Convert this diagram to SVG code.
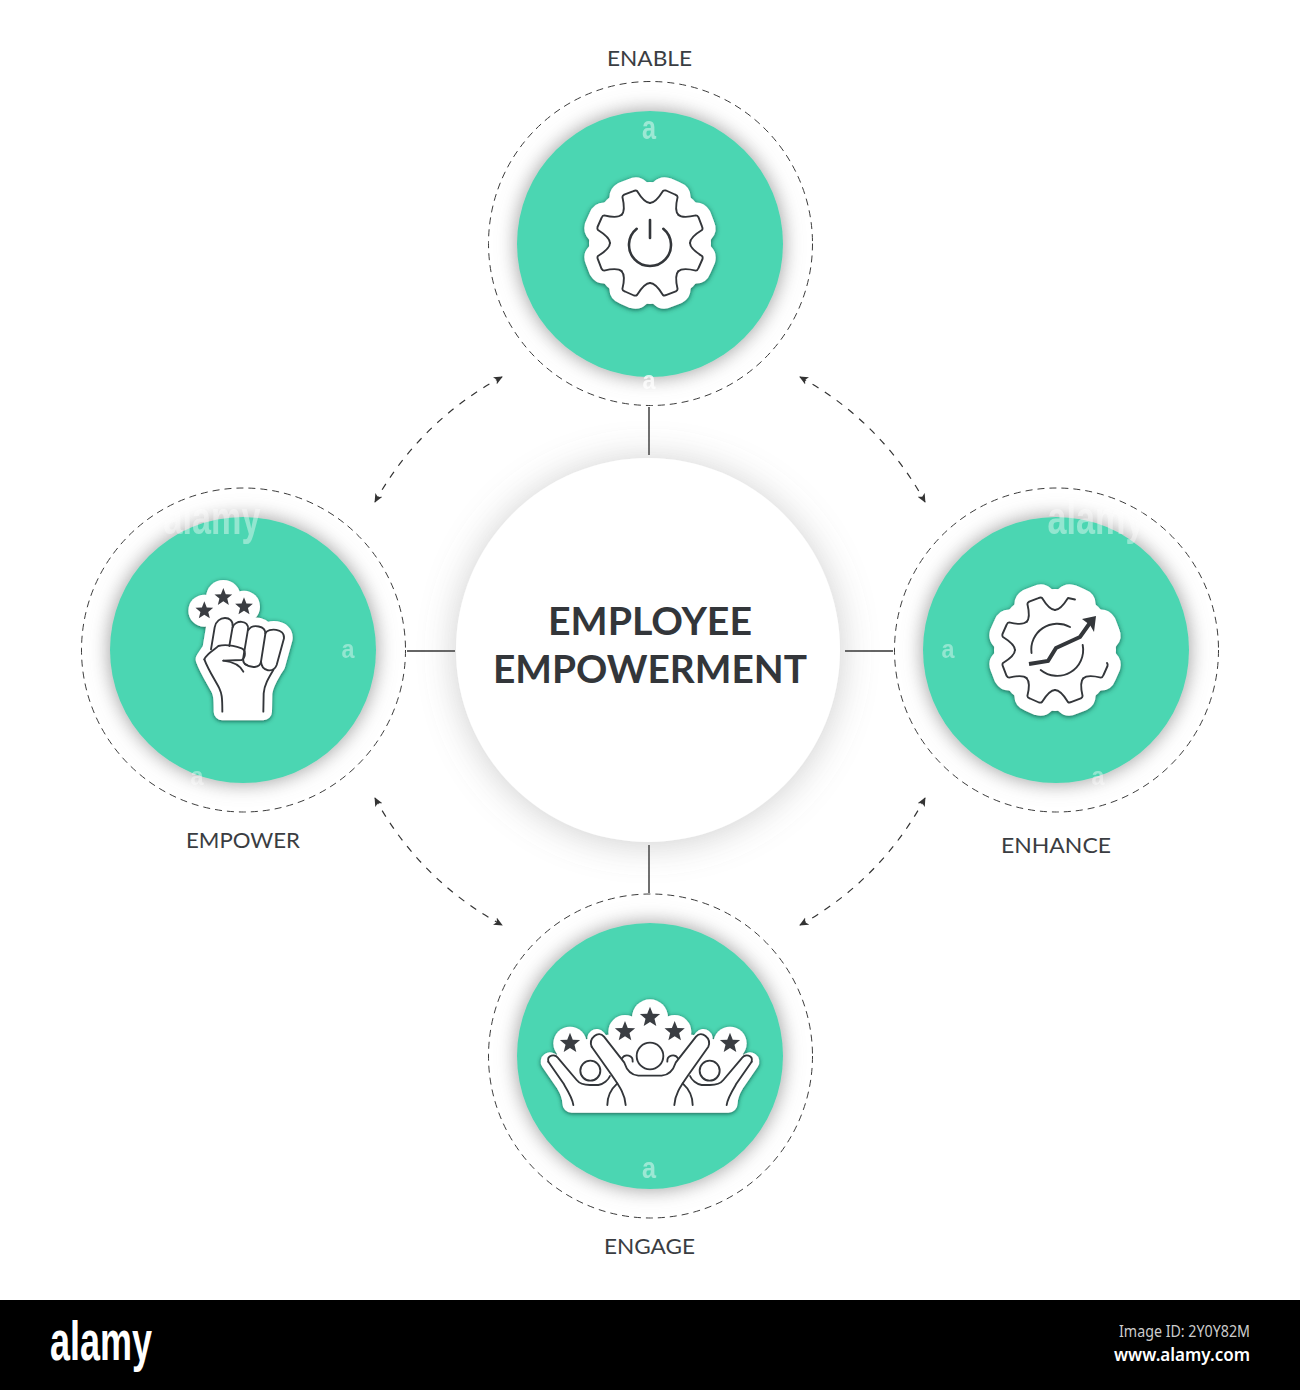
<svg xmlns="http://www.w3.org/2000/svg" width="1300" height="1390" viewBox="0 0 1300 1390">
<style>
.lbl{font-family:"Lato","Liberation Sans",sans-serif;font-size:21px;fill:#3a3d42;text-anchor:middle}
.title{font-family:"Lato","Liberation Sans",sans-serif;font-weight:700;font-size:39px;fill:#33363a;text-anchor:middle}
.teal{fill:#4bd6b2}
.dash{fill:none;stroke:#3c3c3c;stroke-width:1;stroke-dasharray:7 5}
.arc{fill:none;stroke:#333;stroke-width:1.2;stroke-dasharray:7 7.5}
.ln{stroke:#333;stroke-width:1.4;fill:none}
.ic{fill:none;stroke:#33363a;stroke-width:1.9;stroke-linecap:round;stroke-linejoin:round}
.ic5{fill:none;stroke:#33363a;stroke-width:5.6;stroke-linecap:round;stroke-linejoin:round}
.st{fill:#fff;stroke:#fff;stroke-width:26;stroke-linejoin:round;stroke-linecap:round}
.sk{fill:none;stroke:#fff;stroke-width:56;stroke-linejoin:round;stroke-linecap:round}
.skb{fill:#fff;stroke:#fff;stroke-width:52;stroke-linejoin:round}
.star{fill:#3a3d42}
.w{fill:#fff}
.wm{font-family:"Liberation Sans",sans-serif;font-weight:700;fill:#fff;text-anchor:middle}
</style>
<defs>
<filter id="halo" x="-30%" y="-30%" width="160%" height="160%"><feDropShadow dx="0" dy="0" stdDeviation="10" flood-color="#777" flood-opacity=".75"/></filter>
<filter id="big" x="-30%" y="-30%" width="160%" height="160%"><feDropShadow dx="0" dy="2" stdDeviation="18" flood-color="#777" flood-opacity=".36"/></filter>
<filter id="stk" x="-20%" y="-20%" width="140%" height="140%"><feDropShadow dx="0" dy="1" stdDeviation="2.6" flood-color="#0b3f34" flood-opacity=".8"/></filter>
<filter id="stk3" x="-20%" y="-20%" width="140%" height="140%"><feDropShadow dx="0" dy="3" stdDeviation="7" flood-color="#0b3f34" flood-opacity=".8"/></filter>
<marker id="ah" viewBox="0 0 10 10" refX="9" refY="5" markerWidth="9" markerHeight="9" markerUnits="userSpaceOnUse" orient="auto-start-reverse"><path d="M0,0.5 L10,5 L0,9.5 L2.5,5 Z" fill="#333"/></marker>
<path id="seg" d="M0,-40 C4,-40 8,-44 13,-52 Q14,-53 16,-52.5 L25,-48.5 Q27.6,-47.5 27.6,-45.9 C25.4,-36.8 25.5,-31.1 28.3,-28.3"/>
<g id="gear"><use href="#seg"/><use href="#seg" transform="rotate(45)"/><use href="#seg" transform="rotate(90)"/><use href="#seg" transform="rotate(135)"/><use href="#seg" transform="rotate(180)"/><use href="#seg" transform="rotate(225)"/><use href="#seg" transform="rotate(270)"/><use href="#seg" transform="rotate(315)"/></g>
<g id="sticker"><circle r="61" fill="#fff"/><use href="#gear" class="st"/></g>
<path id="s" d="M0,-10 L2.6,-3.4 L9.5,-3.1 L4.2,1.3 L5.9,8.1 L0,4.3 L-5.9,8.1 L-4.2,1.3 L-9.5,-3.1 L-2.6,-3.4 Z"/>
<g id="person"><path d="M55,215 C50,195 75,190 85,205 L140,270 C150,283 165,285 180,285 L205,285 C220,283 235,270 240,258"/><path d="M55,215 L100,280 C115,305 128,325 130,345"/><circle cx="181" cy="242" r="30"/><path d="M262,280 C240,300 232,320 232,345"/></g>
</defs>

<rect width="1300" height="1390" fill="#fff"/>

<g id="connectors">
<path class="ln" d="M649,407V455M649,845V893M407,651H455M845,651H893"/>
<path class="arc" marker-start="url(#ah)" marker-end="url(#ah)" d="M800,377 A312,312 0 0 1 925,502"/>
<path class="arc" marker-start="url(#ah)" marker-end="url(#ah)" d="M502,377 A312,312 0 0 0 375,502"/>
<path class="arc" marker-start="url(#ah)" marker-end="url(#ah)" d="M375,798 A312,312 0 0 0 502,925"/>
<path class="arc" marker-start="url(#ah)" marker-end="url(#ah)" d="M925,798 A312,312 0 0 1 800,925"/>
</g>

<g id="center">
<circle cx="648" cy="650" r="192" fill="#fff" filter="url(#big)"/>
<text class="title" x="650" y="635" textLength="204" lengthAdjust="spacingAndGlyphs">EMPLOYEE</text>
<text class="title" x="650" y="683" textLength="314" lengthAdjust="spacingAndGlyphs">EMPOWERMENT</text>
</g>

<g id="enable">
<circle class="dash" cx="650.500" cy="243.500" r="162"/>
<circle class="teal" cx="650" cy="244" r="133" filter="url(#halo)"/>
<text class="wm" x="649" y="139" font-size="34" opacity=".45" textLength="14" lengthAdjust="spacingAndGlyphs">a</text>
<text class="wm" x="649" y="389" font-size="26" opacity=".8" textLength="13" lengthAdjust="spacingAndGlyphs">a</text>
<g transform="translate(650,243)"><g filter="url(#stk)"><use href="#sticker"/></g><use href="#gear" class="ic"/></g>
<path class="ic" style="stroke-width:2.6" d="M636.700,228.800 A21,21 0 1 0 663.300,228.800"/>
<path class="ic" style="stroke-width:2.6" d="M650,220V238"/>
<text class="lbl" x="649.500" y="66" textLength="85" lengthAdjust="spacingAndGlyphs">ENABLE</text>
</g>

<g id="empower">
<circle class="dash" cx="243.500" cy="650" r="162"/>
<circle class="teal" cx="243" cy="650" r="133" filter="url(#halo)"/>
<text class="wm" x="212" y="534" font-size="46" opacity=".4" textLength="97" lengthAdjust="spacingAndGlyphs">alamy</text>
<text class="wm" x="348" y="658" font-size="26" opacity=".4" textLength="13" lengthAdjust="spacingAndGlyphs">a</text>
<text class="wm" x="197" y="785" font-size="26" opacity=".4" textLength="13" lengthAdjust="spacingAndGlyphs">a</text>
<g transform="translate(160,570) scale(.33333)">
<g filter="url(#stk3)">
<circle class="w" cx="133" cy="122" r="48"/><circle class="w" cx="190" cy="82" r="52"/><circle class="w" cx="252" cy="110" r="48"/>
<path class="w" d="M133,122 L190,82 L252,110 L230,180 L150,190 Z"/>
<path class="skb" d="M133,268 L153,238 L164,172 C170,135 222,135 218,170 C225,148 268,150 264,178 C278,160 318,168 316,192 C325,172 375,175 372,205 L350,285 L340,300 C325,325 313,345 311,370 L310,425 L187,425 C187,380 185,370 178,355 C165,330 145,300 133,268 Z"/>
</g>
<use href="#s" class="star" transform="translate(133,122) scale(2.8)"/>
<use href="#s" class="star" transform="translate(190,82) scale(2.8)"/>
<use href="#s" class="star" transform="translate(252,110) scale(2.8)"/>
<g class="ic5">
<path d="M153,238 L164,172 C170,135 222,135 218,170 L208,228"/>
<path d="M218,172 C225,148 268,150 264,178 L250,262 C248,275 252,283 262,286"/>
<path d="M265,180 C278,160 318,168 316,192 L303,275 C300,295 272,295 255,282"/>
<path d="M316,190 C325,172 375,175 372,205 L350,285 C340,310 305,305 303,275"/>
<path d="M133,268 C140,250 170,235 175,228 C195,222 225,228 245,235 C258,240 258,262 245,270 L190,272"/>
<path d="M190,272 C215,275 240,285 250,305"/>
<path d="M133,268 C145,300 165,330 178,355 C185,370 187,380 187,425"/>
<path d="M340,300 C325,325 313,345 311,370 L310,425"/>
</g>
</g>
<text class="lbl" x="243" y="848" textLength="114" lengthAdjust="spacingAndGlyphs">EMPOWER</text>
</g>

<g id="enhance">
<circle class="dash" cx="1056.500" cy="650" r="162"/>
<circle class="teal" cx="1056" cy="650" r="133" filter="url(#halo)"/>
<text class="wm" x="1096" y="534" font-size="46" opacity=".4" textLength="97" lengthAdjust="spacingAndGlyphs">alamy</text>
<text class="wm" x="948" y="658" font-size="26" opacity=".4" textLength="13" lengthAdjust="spacingAndGlyphs">a</text>
<text class="wm" x="1098" y="785" font-size="26" opacity=".4" textLength="13" lengthAdjust="spacingAndGlyphs">a</text>
<g transform="translate(1055,650)">
<g filter="url(#stk)"><use href="#sticker"/></g>
<g class="ic">
<path d="M0,-40 C4,-40 8,-44 13,-52 L20,-50.500"/>
<path transform="rotate(90)" d="M13,-52 Q14,-53 16,-52.5 L25,-48.5 Q27.6,-47.5 27.6,-45.9 C25.4,-36.8 25.5,-31.1 28.3,-28.3"/>
<use href="#seg" transform="rotate(135)"/><use href="#seg" transform="rotate(180)"/><use href="#seg" transform="rotate(225)"/><use href="#seg" transform="rotate(270)"/><use href="#seg" transform="rotate(315)"/>
<path d="M15,-23 A26,26 0 0 0 -23.500,3"/>
<path d="M-14.300,20 A26,26 0 0 0 27.700,-5"/>
</g>
</g>
<path class="ic" style="stroke-width:4;stroke-linecap:butt;stroke-linejoin:miter" d="M1029,664 L1048,661 L1056,648 L1080,637 L1092,620"/>
<path fill="#33363a" d="M1082,619 L1096,616 L1094,632 L1090,625 Z"/>
<text class="lbl" x="1056" y="853" textLength="110" lengthAdjust="spacingAndGlyphs">ENHANCE</text>
</g>

<g id="engage">
<circle class="dash" cx="650.500" cy="1056" r="162"/>
<circle class="teal" cx="650" cy="1056" r="133" filter="url(#halo)"/>
<text class="wm" x="649" y="1178" font-size="30" opacity=".45" textLength="14" lengthAdjust="spacingAndGlyphs">a</text>
<g transform="translate(530,990) scale(.33333)">
<g filter="url(#stk3)">
<circle class="w" cx="120" cy="160" r="50"/><circle class="w" cx="285" cy="125" r="50"/><circle class="w" cx="360" cy="82" r="54"/><circle class="w" cx="434" cy="125" r="50"/><circle class="w" cx="600" cy="160" r="50"/>
<path class="w" d="M55,215 L120,160 L200,140 L285,125 L360,82 L434,125 L520,140 L600,160 L665,215 L590,345 L130,345 Z"/>
<path class="sk" d="M60,215 L105,280 C120,305 125,325 125,340 L595,340 C595,325 600,305 615,280 L660,215"/>
<path class="sk" d="M200,145 L283,255 M520,145 L437,255"/>
</g>
<use href="#s" class="star" transform="translate(120,160) scale(3.2)"/>
<use href="#s" class="star" transform="translate(285,125) scale(3.2)"/>
<use href="#s" class="star" transform="translate(360,82) scale(3.2)"/>
<use href="#s" class="star" transform="translate(434,125) scale(3.2)"/>
<use href="#s" class="star" transform="translate(600,160) scale(3.2)"/>
<g class="ic5">
<use href="#person"/>
<use href="#person" transform="translate(720,0) scale(-1,1)"/>
<path d="M276,205 C285,190 310,195 308,215"/>
<path d="M444,205 C435,190 410,195 412,215"/>
<path d="M185,170 L245,255 C265,285 285,310 287,345"/>
<path d="M185,170 C175,145 205,120 222,140 L283,218 C290,240 305,255 325,257 L395,257 C415,255 430,240 437,218 L498,140 C515,120 545,145 535,170 L475,255 C455,285 435,310 433,345"/>
<circle cx="360" cy="198" r="40"/>
</g>
</g>
<text class="lbl" x="649.500" y="1254" textLength="91" lengthAdjust="spacingAndGlyphs">ENGAGE</text>
</g>

<g id="footer">
<rect x="0" y="1300" width="1300" height="90" fill="#000"/>
<text x="101" y="1360" font-family="'Liberation Sans',sans-serif" font-weight="700" font-size="56" fill="#fff" text-anchor="middle" textLength="102" lengthAdjust="spacingAndGlyphs">alamy</text>
<text x="1250" y="1337" font-family="'Noto Sans',sans-serif" font-size="17" fill="#ccc" text-anchor="end" textLength="131" lengthAdjust="spacingAndGlyphs">Image ID: 2Y0Y82M</text>
<text x="1250" y="1361" font-family="'Noto Sans',sans-serif" font-weight="600" font-size="18" fill="#fff" text-anchor="end" textLength="136" lengthAdjust="spacingAndGlyphs">www.alamy.com</text>
</g>
</svg>
